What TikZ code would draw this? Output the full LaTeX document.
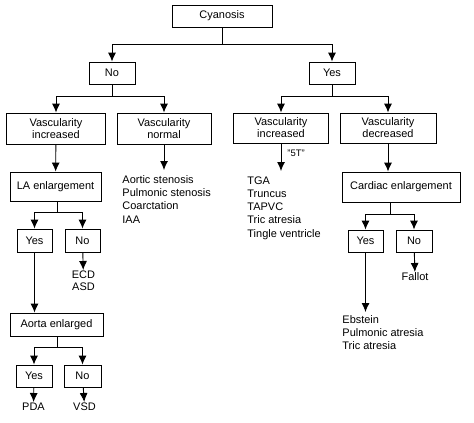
\documentclass[tikz,border=0pt]{standalone}
\usepackage{fontspec}
\setmainfont{Liberation Sans}
\usetikzlibrary{arrows.meta}

\begin{document}
\begin{tikzpicture}[>={Latex[length=9bp,width=8bp]},x=1bp,y=-1bp,line width=0.9pt,
  box/.style={draw,align=center,inner sep=0pt,font=\fontsize{11}{12}\selectfont},
  res/.style={anchor=north,align=center,inner sep=0pt,font=\fontsize{11}{12}\selectfont},
  lst/.style={anchor=north west,align=left,inner sep=0pt,font=\fontsize{11}{13.3}\selectfont}]

\useasboundingbox (0,0) rectangle (474,422);

% top of the tree
\node[box,minimum width=100bp,minimum height=22bp] (cy) at (222,16) {Cyanosis};
\node[box,minimum width=46bp,minimum height=22bp] (no1) at (112,73) {No};
\node[box,minimum width=46bp,minimum height=22bp] (yes1) at (332,73) {Yes};

\coordinate (j0) at (222,44);
\draw (cy) -- (j0);
\foreach \b in {no1,yes1}
	\draw[->] (j0) -| (\b.north);

% vascularity boxes
\node[box,minimum width=99bp,minimum height=31bp] (vinc) at (56,128.5) {Vascularity\\increased};
\node[box,minimum width=94bp,minimum height=31bp] (vnorm) at (164,128.5) {Vascularity\\normal};
\node[box,minimum width=95bp,minimum height=30bp] (vinc2) at (281,128) {Vascularity\\increased};
\node[box,minimum width=96bp,minimum height=30bp] (vdec) at (388,128) {Vascularity\\decreased};

\coordinate (j1) at (112,96);
\coordinate (j2) at (332,96);
\draw (no1) -- (j1);
\draw (yes1) -- (j2);
\foreach \b in {vinc,vnorm}
	\draw[->] (j1) -| (\b.north);
\foreach \b in {vinc2,vdec}
	\draw[->] (j2) -| (\b.north);

% no cyanosis
\node[box,minimum width=91bp,minimum height=29bp] (la) at (55.5,186.5) {LA enlargement};
\node[lst] (aortic) at (122,175) {Aortic stenosis\\Pulmonic stenosis\\Coarctation\\IAA};
\draw[->] (vinc) -- (la);
\draw[->,shorten >=5bp] (vnorm.south) -- (vnorm.south |- aortic.north);

\node[box,minimum width=35bp,minimum height=23bp] (layes) at (34.5,240.5) {Yes};
\node[box,minimum width=35bp,minimum height=23bp] (lano) at (82.5,240.5) {No};
\coordinate (j3) at (57,212);
\draw (la.south -| j3) -- (j3);
\foreach \b in {layes,lano}
	\draw[->] (j3) -| (\b.north);

\node[res] (ecd) at (83.5,270) {ECD\\ASD};
\draw[->] (lano) -- (ecd);

\node[box,minimum width=93bp,minimum height=23bp] (aorta) at (56.5,324.5) {Aorta enlarged};
\draw[->] (layes.south) -- (layes.south |- aorta.north);

\node[box,minimum width=36bp,minimum height=22bp] (ayes) at (34,376) {Yes};
\node[box,minimum width=37bp,minimum height=22bp] (ano) at (82.5,376) {No};
\coordinate (j4) at (57,347);
\draw (aorta.south -| j4) -- (j4);
\foreach \b in {ayes,ano}
	\draw[->] (j4) -| (\b.north);

\node[res] (pda) at (33.5,402) {PDA};
\node[res] (vsd) at (84.5,402) {VSD};
\draw[->] (ayes) -- (pda);
\draw[->] (ano) -- (vsd);

% cyanosis
\node[lst] (tga) at (247,176) {TGA\\Truncus\\TAPVC\\Tric atresia\\Tingle ventricle};
\draw[->,shorten >=5bp] (vinc2.south) -- (vinc2.south |- tga.north)
	node[pos=0.3,right=6bp,inner sep=0pt,font=\fontsize{9.5}{10}\selectfont] (fivet) {"5T"};

\node[box,minimum width=118bp,minimum height=30bp] (card) at (401,187) {Cardiac enlargement};
\draw[->] (vdec) -- (vdec |- card.north);

\node[box,minimum width=35bp,minimum height=22bp] (cyes) at (365.5,241) {Yes};
\node[box,minimum width=36bp,minimum height=22bp] (cno) at (414,241) {No};
\coordinate (j5) at (390,214);
\draw (card.south -| j5) -- (j5);
\foreach \b in {cyes,cno}
	\draw[->] (j5) -| (\b.north);

\node[res] (fallot) at (415,272) {Fallot};
\draw[->] (cno) -- (fallot);

\node[lst] (ebstein) at (342,315) {Ebstein\\Pulmonic atresia\\Tric atresia};
\draw[->,shorten >=3bp] (cyes.south) -- (cyes.south |- ebstein.north);

\end{tikzpicture}
\end{document}
